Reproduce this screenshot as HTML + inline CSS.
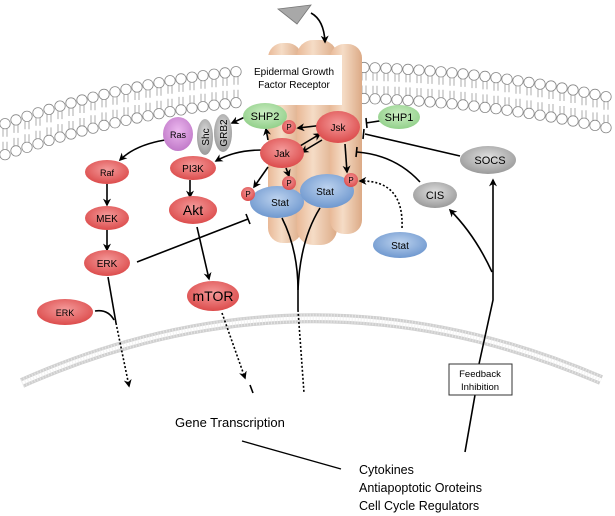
<!DOCTYPE html>
<html><head><meta charset="utf-8">
<style>
html,body{margin:0;padding:0;background:#fff;overflow:hidden;}
svg{display:block;font-family:"Liberation Sans",sans-serif;}
</style></head>
<body>
<svg width="615" height="516" viewBox="0 0 615 516" xmlns="http://www.w3.org/2000/svg">
<defs>
<marker id="a" viewBox="0 0 10 10" refX="8" refY="5" markerWidth="5" markerHeight="5" orient="auto"><path d="M0,0 L10,5 L0,10 L3,5 z" fill="#000"/></marker>
<radialGradient id="red" cx="50%" cy="40%" r="60%"><stop offset="0" stop-color="#f49a9a"/><stop offset="1" stop-color="#dc4c4c"/></radialGradient>
<radialGradient id="grn" cx="50%" cy="40%" r="60%"><stop offset="0" stop-color="#cdeec5"/><stop offset="1" stop-color="#92d08a"/></radialGradient>
<radialGradient id="blu" cx="50%" cy="40%" r="60%"><stop offset="0" stop-color="#bcd2ee"/><stop offset="1" stop-color="#6f98cf"/></radialGradient>
<radialGradient id="gry" cx="50%" cy="40%" r="60%"><stop offset="0" stop-color="#e0e0e0"/><stop offset="1" stop-color="#9a9a9a"/></radialGradient>
<radialGradient id="pur" cx="50%" cy="40%" r="60%"><stop offset="0" stop-color="#ecb8ef"/><stop offset="1" stop-color="#c17ac9"/></radialGradient>
<linearGradient id="tan" x1="0" x2="1"><stop offset="0" stop-color="#e9b997"/><stop offset="0.4" stop-color="#f5dcc6"/><stop offset="1" stop-color="#dcaa86"/></linearGradient>
<g id="lip">
<path d="M-2 5V13M2 5V13M-2 18V26M2 18V26" stroke="#999" stroke-width="0.8" fill="none"/>
<circle cx="0" cy="0" r="5.2" fill="#fff" stroke="#888" stroke-width="0.8"/>
<circle cx="0" cy="31" r="5.2" fill="#fff" stroke="#888" stroke-width="0.8"/>
</g>
</defs>

<g>
<use href="#lip" x="5" y="123.7"/><use href="#lip" x="16" y="119.9"/><use href="#lip" x="27" y="116.3"/><use href="#lip" x="38" y="112.8"/><use href="#lip" x="49" y="109.4"/><use href="#lip" x="60" y="106.1"/><use href="#lip" x="71" y="103"/><use href="#lip" x="82" y="100"/><use href="#lip" x="93" y="97.2"/><use href="#lip" x="104" y="94.4"/><use href="#lip" x="115" y="91.8"/><use href="#lip" x="126" y="89.3"/><use href="#lip" x="137" y="87"/><use href="#lip" x="148" y="84.8"/><use href="#lip" x="159" y="82.7"/><use href="#lip" x="170" y="80.7"/><use href="#lip" x="181" y="78.9"/><use href="#lip" x="192" y="77.2"/><use href="#lip" x="203" y="75.7"/><use href="#lip" x="214" y="74.2"/><use href="#lip" x="225" y="72.9"/><use href="#lip" x="236" y="71.7"/>
<use href="#lip" x="353" y="67.2"/><use href="#lip" x="364" y="67.5"/><use href="#lip" x="375" y="67.8"/><use href="#lip" x="386" y="68.2"/><use href="#lip" x="397" y="68.8"/><use href="#lip" x="408" y="69.4"/><use href="#lip" x="419" y="70.1"/><use href="#lip" x="430" y="70.9"/><use href="#lip" x="441" y="71.8"/><use href="#lip" x="452" y="72.8"/><use href="#lip" x="463" y="73.9"/><use href="#lip" x="474" y="75.1"/><use href="#lip" x="485" y="76.4"/><use href="#lip" x="496" y="77.7"/><use href="#lip" x="507" y="79.2"/><use href="#lip" x="518" y="80.8"/><use href="#lip" x="529" y="82.4"/><use href="#lip" x="540" y="84.2"/><use href="#lip" x="551" y="86"/><use href="#lip" x="562" y="88"/><use href="#lip" x="573" y="90"/><use href="#lip" x="584" y="92.2"/><use href="#lip" x="595" y="94.4"/><use href="#lip" x="606" y="96.7"/>
</g>

<!-- nucleus membrane -->
<path d="M22 383 Q310 255 601 380" fill="none" stroke="#cfcfcf" stroke-width="10"/>
<path d="M22 383 Q310 255 601 380" fill="none" stroke="#fff" stroke-width="3.5"/>
<path d="M22 383 Q310 255 601 380" fill="none" stroke="#ececec" stroke-width="9" stroke-dasharray="1 2" opacity="0.7"/>

<!-- receptor -->
<rect x="268" y="43" width="34" height="200" rx="15" fill="url(#tan)"/>
<rect x="297" y="40" width="40" height="205" rx="16" fill="url(#tan)"/>
<rect x="330" y="44" width="32" height="190" rx="14" fill="url(#tan)"/>
<rect x="245" y="55" width="97" height="50" fill="#fff"/>
<text x="294" y="75" font-size="10" text-anchor="middle">Epidermal Growth</text>
<text x="294" y="88" font-size="10" text-anchor="middle">Factor Receptor</text>

<!-- ligand -->
<path d="M278 9 L311 5 L297 24 z" fill="#a8a8a8" stroke="#777" stroke-width="0.8"/>
<path d="M311 13 Q324 20 325 42" fill="none" stroke="#000" stroke-width="1.6" marker-end="url(#a)"/>

<g fill="none" stroke="#000" stroke-width="1.6">
<path d="M324 125 L298 128" marker-end="url(#a)"/>
<path d="M245 117 L232 123" marker-end="url(#a)"/>
<path d="M268 140 L266 129" marker-end="url(#a)"/>
<path d="M300 146 L320 134" marker-end="url(#a)"/>
<path d="M322 140 L302 152" marker-end="url(#a)"/>
<path d="M262 150 Q235 150 216 161" marker-end="url(#a)"/>
<path d="M268 167 L254 187" marker-end="url(#a)"/>
<path d="M286 168 L289 176" marker-end="url(#a)"/>
<path d="M345 144 L347 172" marker-end="url(#a)"/>
<path d="M386 120 L366 123"/><path d="M366 118 L367 128"/>
<path d="M460 156 L365 134"/><path d="M364 129 L363 139"/>
<path d="M420 182 Q395 155 357 152"/><path d="M357 147 L356 157"/>
<path d="M402 228 Q404 180 360 181" stroke-dasharray="2 2" marker-end="url(#a)"/>
<path d="M165 140 Q135 145 120 160" marker-end="url(#a)"/>
<path d="M107 184 L107 205" marker-end="url(#a)"/>
<path d="M107 230 L107 250" marker-end="url(#a)"/>
<path d="M190 180 L190 197" marker-end="url(#a)"/>
<path d="M197 227 L209 279" marker-end="url(#a)"/>
<path d="M137 262 L248 219"/><path d="M246 214 L250 224"/>
<path d="M108 277 Q112 300 116 323"/>
<path d="M95 311 Q108 309 114 320"/>
<path d="M116 323 L129 386" stroke-dasharray="2 2" marker-end="url(#a)"/>
<path d="M222 313 L245 378" stroke-dasharray="2 2" marker-end="url(#a)"/>
<path d="M250 385 L253 393"/>
<path d="M282 218 Q298 250 298 290"/>
<path d="M320 208 Q300 240 298 290"/>
<path d="M298 290 L298 310"/>
<path d="M298 310 L304 393" stroke-dasharray="2 2"/>
<path d="M465 452 L475 395"/>
<path d="M479 364 L493 300 L493 180" marker-end="url(#a)"/>
<path d="M492 272 Q475 235 450 210" marker-end="url(#a)"/>
<path d="M242 441 L341 469" stroke-width="1.3"/>
</g>

<g font-size="10" text-anchor="middle" stroke="none">
<ellipse cx="265" cy="116" rx="22" ry="13" fill="url(#grn)"/><text x="265" y="120" font-size="11">SHP2</text>
<ellipse cx="399" cy="117" rx="21" ry="12" fill="url(#grn)"/><text x="399" y="121" font-size="11">SHP1</text>
<ellipse cx="338" cy="127" rx="22" ry="16" fill="url(#red)"/><text x="338" y="131">Jsk</text>
<ellipse cx="282" cy="153" rx="22" ry="15" fill="url(#red)"/><text x="282" y="157">Jak</text>
<ellipse cx="178" cy="134" rx="15" ry="17" fill="url(#pur)"/><text x="178" y="138" font-size="9">Ras</text>
<ellipse cx="205" cy="137" rx="8" ry="18" fill="url(#gry)"/><text transform="translate(209,137) rotate(-90)" font-size="10">Shc</text>
<ellipse cx="223" cy="133" rx="9" ry="19" fill="url(#gry)"/><text transform="translate(227,133) rotate(-90)" font-size="10">GRB2</text>
<ellipse cx="277" cy="202" rx="27" ry="16" fill="url(#blu)"/><text x="280" y="206">Stat</text>
<ellipse cx="327" cy="191" rx="27" ry="17" fill="url(#blu)"/><text x="325" y="195">Stat</text>
<ellipse cx="400" cy="245" rx="27" ry="13" fill="url(#blu)"/><text x="400" y="249">Stat</text>
<ellipse cx="488" cy="160" rx="28" ry="14" fill="url(#gry)"/><text x="490" y="164" font-size="11">SOCS</text>
<ellipse cx="435" cy="195" rx="22" ry="13" fill="url(#gry)"/><text x="435" y="199" font-size="11">CIS</text>
<ellipse cx="193" cy="168" rx="23" ry="12" fill="url(#red)"/><text x="193" y="172">PI3K</text>
<ellipse cx="193" cy="210" rx="24" ry="14" fill="url(#red)"/><text x="193" y="215" font-size="14">Akt</text>
<ellipse cx="107" cy="172" rx="22" ry="12" fill="url(#red)"/><text x="107" y="176" font-size="9">Raf</text>
<ellipse cx="107" cy="218" rx="22" ry="12" fill="url(#red)"/><text x="107" y="222">MEK</text>
<ellipse cx="107" cy="263" rx="23" ry="13" fill="url(#red)"/><text x="107" y="267">ERK</text>
<ellipse cx="65" cy="312" rx="28" ry="13" fill="url(#red)"/><text x="65" y="316" font-size="9">ERK</text>
<ellipse cx="213" cy="296" rx="26" ry="15" fill="url(#red)"/><text x="213" y="301" font-size="14">mTOR</text>
<g font-size="8">
<circle cx="289" cy="127" r="7" fill="url(#red)"/><text x="289" y="130">P</text>
<circle cx="289" cy="183" r="7" fill="url(#red)"/><text x="289" y="186">P</text>
<circle cx="248" cy="194" r="7" fill="url(#red)"/><text x="248" y="197">P</text>
<circle cx="351" cy="180" r="7" fill="url(#red)"/><text x="351" y="183">P</text>
</g>
</g>

<rect x="449" y="364" width="63" height="31" fill="#fff" stroke="#333" stroke-width="1"/>
<text x="480" y="377" font-size="9.5" text-anchor="middle">Feedback</text>
<text x="480" y="390" font-size="9.5" text-anchor="middle">Inhibition</text>

<text x="175" y="427" font-size="13">Gene Transcription</text>
<text x="359" y="474" font-size="12.5">Cytokines</text>
<text x="359" y="492" font-size="12.5">Antiapoptotic Oroteins</text>
<text x="359" y="510" font-size="12.5">Cell Cycle Regulators</text>
</svg>
</body></html>
